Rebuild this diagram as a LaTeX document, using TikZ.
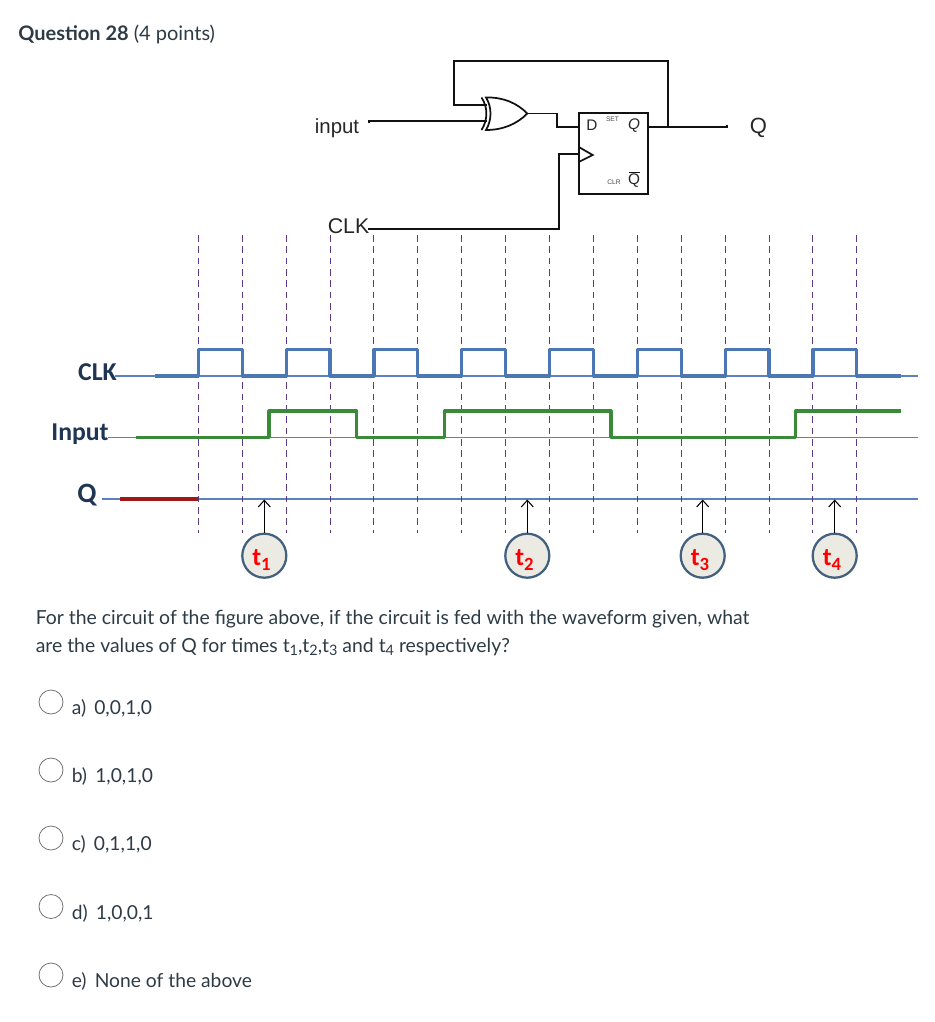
\documentclass[tikz,border=0pt]{standalone}
\usepackage{fontspec}
\setmainfont{Lato}
\newfontfamily\arialf{Liberation Sans}
\newfontfamily\calf{Carlito}
\definecolor{wire}{HTML}{111111}
\definecolor{dashc}{HTML}{5A3A86}
\definecolor{thinb}{HTML}{5B82BE}
\definecolor{clkb}{HTML}{4A78B4}
\definecolor{inputg}{HTML}{3A8A3A}
\definecolor{redq}{HTML}{A01818}
\definecolor{navy}{HTML}{1F3554}
\definecolor{circb}{HTML}{44607F}
\definecolor{circf}{HTML}{ECEBE3}
\definecolor{txt}{HTML}{2D3B45}
\tikzset{
  wireline/.style={draw=wire,line width=1.3pt,line join=miter},
  gridline/.style={draw=dashc,line width=0.7pt,dash pattern=on 5pt off 3.5pt},
  baseline/.style={draw=thinb,line width=0.8pt},
  clkwave/.style={draw=clkb,line width=2.4pt,line join=round},
  inwave/.style={draw=inputg,line width=2.4pt,line join=round},
  qwave/.style={draw=redq,line width=2.4pt},
  tcircle/.style={circle,draw=circb,fill=circf,line width=1.7pt,minimum size=33pt,inner sep=0pt},
  tlabel/.style={text=red,inner sep=0pt,font=\calf\bfseries\fontsize{19}{22}\selectfont},
  tarrow/.style={draw=black,line width=0.8pt,-{Straight Barb[length=5pt,width=9pt]}},
  sigl/.style={font=\calf\bfseries\fontsize{19.3}{22}\selectfont,text=navy,inner sep=0pt},
  ckt/.style={font=\arialf\fontsize{15.3}{18}\selectfont,text=black!85,inner sep=0pt},
  tiny/.style={font=\arialf\fontsize{5}{6}\selectfont,text=black!70,inner sep=0pt},
  body/.style={anchor=base west,inner sep=0pt,text=txt,font=\fontsize{14.55}{17}\selectfont},
  titlet/.style={anchor=base west,inner sep=0pt,text=txt,font=\fontsize{15}{18}\selectfont},
  opt/.style={anchor=base west,inner sep=0pt,text=txt,font=\fontsize{14.45}{17}\selectfont},
  radio/.style={circle,draw=black!55,fill=white,line width=0.6pt,minimum size=18pt,inner sep=0pt},
  fflabel/.style={font=\arialf\fontsize{11.5}{13}\selectfont,inner sep=0pt,text=black!85},
}
\usetikzlibrary{arrows.meta}
\newcommand{\lsub}[1]{\raisebox{-0.35ex}{\fontsize{10.8}{12}\selectfont #1}}
\newcommand{\csub}[1]{\raisebox{-0.45ex}{\fontsize{14}{16}\selectfont #1}}
\begin{document}
\begin{tikzpicture}[x=0.75pt,y=-0.75pt]
\useasboundingbox (0,0) rectangle (935,1022);
% header
\node[titlet] (title) at (18,40) {\textbf{Question 28} (4 points)};
% flip-flop
\node[draw=wire,line width=1.3pt,fill=white,minimum width=51.3pt,minimum height=60.8pt,inner sep=0pt] (ff) at (613.5,153.8) {};
\coordinate (ffD) at (579.3,127.3);
\coordinate (ffQ) at (647.7,126.7);
\coordinate (ffCa) at (579.3,147.3);
\coordinate (ffCt) at (592.7,155);
\coordinate (ffCb) at (579.3,161.7);
\coordinate (ffC) at (579.3,154.3);
\draw[wireline] (ffCa) -- (ffCt) -- (ffCb);
\node[fflabel] (dl) at (592,125) {D};
\node[tiny] (setl) at (612.5,119.5) {SET};
\node[tiny] (clrl) at (614,182.5) {CLR};
\node[fflabel,font=\arialf\itshape\fontsize{11.5}{13}\selectfont] (ql) at (634,125.5) {Q};
\node[fflabel] (qbl) at (634,181) {Q};
\draw[wireline,line width=0.9pt] (628.5,172.5) -- (639.5,172.5);
% XOR gate
\coordinate (gTop) at (486,97.5);
\coordinate (gBot) at (486,130);
\coordinate (gOut) at (527.3,113.5);
\coordinate (gA) at (487,105.3);
\coordinate (gB) at (487,121);
\draw[wireline] (gTop) .. controls (503,97) and (517,103) .. (gOut) .. controls (517,124) and (503,130) .. (gBot) .. controls (492,120) and (492,107) .. cycle;
\draw[wireline] (481.5,97.5) .. controls (488,107) and (488,120) .. (481.5,130);
% wires
\coordinate (fbL) at (453.7,61);
\coordinate (fbR) at (667.7,61);
\coordinate (qj) at (667.7,126.7);
\coordinate (qend) at (727.3,126.7);
\coordinate (inS) at (369,121);
\coordinate (clkS) at (368,229);
\draw[wireline] (gA) -- (453.7,105.3) -- (fbL) -- (fbR) -- (qj);
\draw[wireline] (369,122.5) -- (inS) -- (gB);
\draw[wireline] (gOut) -- (557,113.5) -- (557,127.3) -- (ffD);
\draw[wireline] (ffQ) -- (qend) -- (727.3,125);
\draw[wireline] (clkS) -- (558.7,229) -- (558.7,154.3) -- (ffC);
\node[ckt] (inl) at (337,128) {input};
\node[ckt,font=\arialf\fontsize{16.5}{18}\selectfont] (outq) at (758.5,127.5) {Q};
\node[ckt,font=\arialf\fontsize{16}{18}\selectfont] (clkl) at (348.5,226) {CLK};
% baselines
\coordinate (b1a) at (115,376); \coordinate (b1b) at (918,376);
\coordinate (b2a) at (108,437.3); \coordinate (b2b) at (918,437.3);
\coordinate (b3a) at (102,499); \coordinate (b3b) at (918,499);
\draw[baseline] (b1a) -- (b1b);
\draw[baseline] (b2a) -- (b2b);
\draw[baseline] (b3a) -- (b3b);
% dashed grid
\foreach \i in {0,...,15} {
  \pgfmathsetmacro{\xx}{198.3+43.9*\i}
  \draw[gridline] (\xx,235) -- (\xx,533);
}
% waves
\draw[clkwave] (155,376)
  \foreach \i in {0,...,7} {
    -- ({198.3+87.8*\i},376) -- ({198.3+87.8*\i},349.3) -- ({242.2+87.8*\i},349.3) -- ({242.2+87.8*\i},376)
  } -- (900.7,376);
\draw[inwave] (136,437.3) -- (269,437.3) -- (269,411) -- (356.7,411) -- (356.7,437.3) -- (444.3,437.3) -- (444.3,411) -- (611,411) -- (611,437.3) -- (795.7,437.3) -- (795.7,411) -- (900.7,411);
\draw[qwave] (120,499) -- (198.3,499);
% signal labels
\node[sigl] (lclk) at (97.5,372) {CLK};
\node[sigl] (linp) at (80,434.5) {Input};
\node[sigl,font=\calf\bfseries\fontsize{21}{24}\selectfont] (lq) at (87,495) {Q};
% time markers
\node[tcircle] (t1) at (264.3,555.7) {};
\node[tcircle] (t2) at (527.3,555.7) {};
\node[tcircle] (t3) at (702.7,555.7) {};
\node[tcircle] (t4) at (834.7,555.7) {};
\node[tlabel] (l1) at (261.5,560) {t\csub{1}};
\node[tlabel] (l2) at (524.5,560) {t\csub{2}};
\node[tlabel] (l3) at (700,560) {t\csub{3}};
\node[tlabel] (l4) at (832,560) {t\csub{4}};
\draw[tarrow] (t1.north) -- (264.3,499.5);
\draw[tarrow] (t2.north) -- (527.3,499.5);
\draw[tarrow] (t3.north) -- (702.7,499.5);
\draw[tarrow] (t4.north) -- (834.7,499.5);
% question
\node[body] (q1) at (35.5,624) {For the circuit of the figure above, if the circuit is fed with the waveform given, what};
\node[body] (q2) at (35.5,652) {are the values of Q for times t\lsub{1},t\lsub{2},t\lsub{3} and t\lsub{4} respectively?};
% options
\node[radio] (ra) at (51,702) {}; \node[opt] (oa) at (71.5,714) {a) \,0,0,1,0};
\node[radio] (rb) at (51,770) {}; \node[opt] (ob) at (71.5,782) {b) \,1,0,1,0};
\node[radio] (rc) at (51,838) {}; \node[opt] (oc) at (71.5,850) {c) \,0,1,1,0};
\node[radio] (rd) at (51,906.5) {}; \node[opt] (od) at (71.5,919) {d) \,1,0,0,1};
\node[radio] (re) at (51,975) {}; \node[opt] (oe) at (71.5,987) {e) \,None of the above};
\end{tikzpicture}
\end{document}
